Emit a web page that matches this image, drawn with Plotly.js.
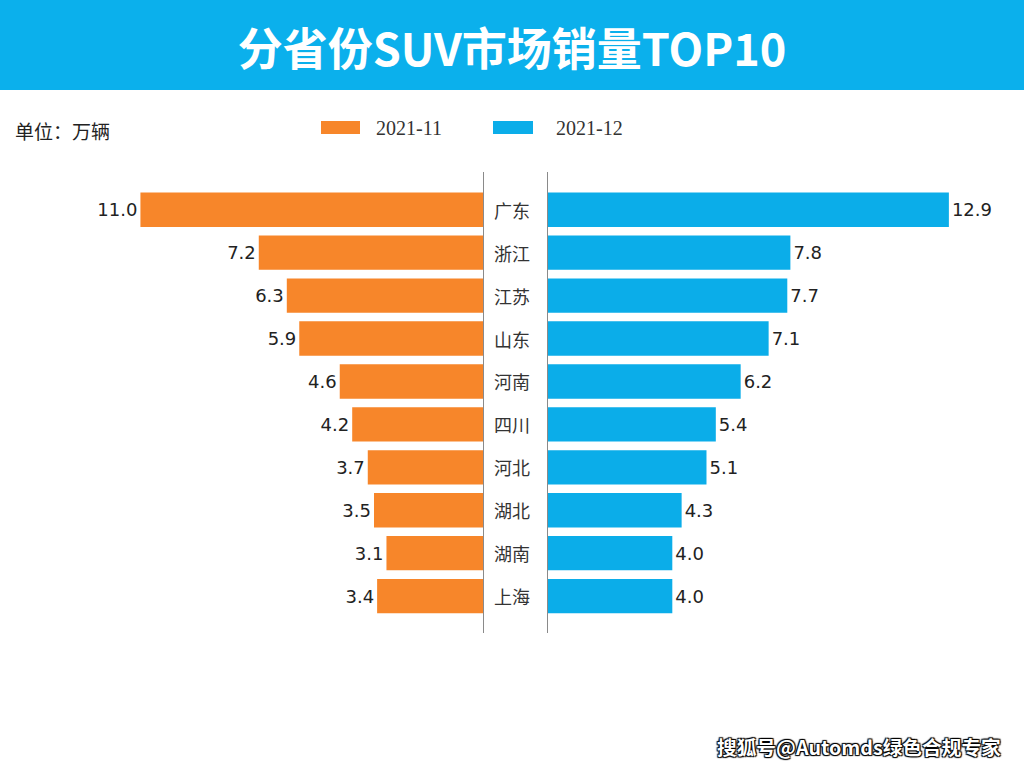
<!DOCTYPE html>
<html>
<head>
<meta charset="utf-8">
<script src="https://cdn.plot.ly/plotly-3.0.1.min.js"></script>
<style>html,body{margin:0;padding:0;background:#fff}#chart{width:1024px;height:768px}</style>
</head>
<body>
<div id="chart"></div>
<script>
const categories = ["广东","浙江","江苏","山东","河南","四川","河北","湖北","湖南","上海"];
const seriesNames = ["2021-11","2021-12"];
const nov = [11.0, 7.2, 6.3, 5.9, 4.6, 4.2, 3.7, 3.5, 3.1, 3.4];
const dec = [12.9, 7.8, 7.7, 7.1, 6.2, 5.4, 5.1, 4.3, 4.0, 4.0];
const titleText = "分省份SUV市场销量TOP10";
const unitText = "单位：万辆";
const watermark = "搜狐号@Automds绿色合规专家";

const ORANGE = "#F7862A", BLUE = "#0BADE9", BANNER = "#0BB0EC";
const W = 1024, H = 768, TOP = 172, BOTTOM = 633;
const py = p => (BOTTOM - p) / (BOTTOM - TOP);
const px = p => p / W;
const CJK = "Noto Sans CJK SC, sans-serif";
const LAT = "DejaVu Sans, sans-serif";

const traces = [
  {type:"bar", orientation:"h", y:categories, x:nov, name:seriesNames[0], xaxis:"x", yaxis:"y",
   marker:{color:ORANGE}, width:0.8, text:nov.map(v=>v.toFixed(1)), textposition:"outside",
   textfont:{family:LAT, size:18, color:"#222"}, cliponaxis:false, hoverinfo:"x+y", showlegend:false},
  {type:"bar", orientation:"h", y:categories, x:dec, name:seriesNames[1], xaxis:"x2", yaxis:"y2",
   marker:{color:BLUE}, width:0.8, text:dec.map(v=>v.toFixed(1)), textposition:"outside",
   textfont:{family:LAT, size:18, color:"#222"}, cliponaxis:false, hoverinfo:"x+y", showlegend:false}
];

const yCommon = {type:"category", range:[9.86,-0.88], showgrid:false, zeroline:false,
  showticklabels:false, ticks:"", showline:true, linecolor:"#8a8a8a", linewidth:1};

const annotations = categories.map((c,i)=>({
  xref:"paper", yref:"y", x:px(512), y:c, text:c, showarrow:false,
  xanchor:"center", yanchor:"middle", font:{family:CJK, size:18, color:"#333"}
}));
annotations.push({xref:"paper", yref:"paper", x:px(13), y:py(130), text:unitText, showarrow:false,
  xanchor:"left", yanchor:"middle", font:{family:CJK, size:19, color:"#222"}});
annotations.push({xref:"paper", yref:"paper", x:px(374), y:py(128), text:seriesNames[0], showarrow:false,
  xanchor:"left", yanchor:"middle", font:{family:"Liberation Serif, serif", size:20, color:"#333"}});
annotations.push({xref:"paper", yref:"paper", x:px(554), y:py(128), text:seriesNames[1], showarrow:false,
  xanchor:"left", yanchor:"middle", font:{family:"Liberation Serif, serif", size:20, color:"#333"}});
annotations.push({xref:"paper", yref:"paper", x:px(1003), y:py(746), text:"<b>"+watermark+"</b>", showarrow:false,
  xanchor:"right", yanchor:"middle",
  font:{family:CJK, size:19.7, color:"#ffffff", shadow:"1px 1px 1px #000, -1px -1px 1px #000, 1px -1px 1px #000, -1px 1px 1px #000"}});

const shapes = [
  {type:"rect", xref:"paper", yref:"paper", x0:0, x1:1, y0:py(90), y1:py(0), fillcolor:BANNER, line:{width:0}, layer:"below"},
  {type:"rect", xref:"paper", yref:"paper", x0:px(321), x1:px(360), y0:py(134), y1:py(121), fillcolor:ORANGE, line:{width:0}},
  {type:"rect", xref:"paper", yref:"paper", x0:px(493), x1:px(533), y0:py(134), y1:py(121), fillcolor:BLUE, line:{width:0}}
];

const layout = {
  width:W, height:H, margin:{l:0, r:0, t:TOP, b:H-BOTTOM},
  paper_bgcolor:"#fff", plot_bgcolor:"rgba(0,0,0,0)",
  title:{text:"<b>"+titleText+"</b>", x:0.5, xanchor:"center", y:1-50/H, yref:"container", yanchor:"middle",
    font:{family:CJK, size:45, color:"#ffffff"}},
  xaxis:{domain:[px(47), px(483)], range:[14,0], showgrid:false, zeroline:false, showticklabels:false, ticks:"", showline:false},
  xaxis2:{domain:[px(548), px(984)], range:[0,14.03], showgrid:false, zeroline:false, showticklabels:false, ticks:"", showline:false},
  yaxis:Object.assign({anchor:"x", side:"right"}, yCommon),
  yaxis2:Object.assign({anchor:"x2", side:"left", matches:"y"}, yCommon),
  shapes:shapes, annotations:annotations, showlegend:false, bargap:0.2
};

Plotly.newPlot("chart", traces, layout, {displayModeBar:false, staticPlot:true});
</script>
</body>
</html>
